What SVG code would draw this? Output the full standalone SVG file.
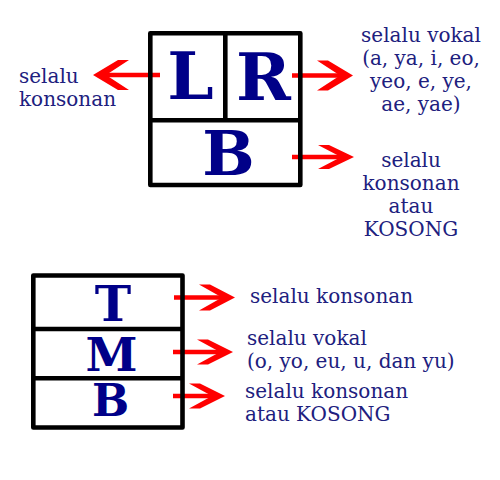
<svg xmlns="http://www.w3.org/2000/svg" width="500" height="480" viewBox="0 0 500 480">
<style>
.box{fill:none;stroke:#000;stroke-width:4.6;stroke-linejoin:round}
.div{stroke:#000;stroke-width:4.6}
.big{font-family:"DejaVu Serif",serif;font-weight:bold;fill:#000088;text-anchor:middle}
.lbl{font-family:"DejaVu Serif",serif;font-size:20px;fill:#20207e}
.mid{text-anchor:middle}
.ln{stroke:#ff0000;stroke-width:4.5;fill:none}
.hd{fill:#ff0000}
</style>
<defs>
<path id="head" d="M0,0 L25,-15 L36,-15 L13,0 L36,15 L25,15 Z"/>
</defs>
<rect width="500" height="480" fill="#fff"/>
<g id="connectors">
<line class="ln" x1="160" y1="75" x2="100" y2="75"/>
<use href="#head" class="hd" transform="translate(93,75)"/>
<line class="ln" x1="292" y1="75.5" x2="345" y2="75.5"/>
<use href="#head" class="hd" transform="translate(353,75.5) scale(-1,1)"/>
<line class="ln" x1="292" y1="157" x2="346" y2="157"/>
<use href="#head" class="hd" transform="translate(354,157) scale(-1,0.8)"/>
<line class="ln" x1="174" y1="297.5" x2="228" y2="297.5"/>
<use href="#head" class="hd" transform="translate(235,297.5) scale(-1,0.87)"/>
<line class="ln" x1="173" y1="352" x2="226" y2="352"/>
<use href="#head" class="hd" transform="translate(233,352) scale(-1,0.83)"/>
<line class="ln" x1="173" y1="396" x2="218" y2="396"/>
<use href="#head" class="hd" transform="translate(225,396) scale(-1,0.83)"/>
</g>
<g id="syllable-LRB">
<rect class="box" x="150.3" y="33.3" width="150" height="151.7"/>
<line class="div" x1="150.3" y1="120.3" x2="300.3" y2="120.3"/>
<line class="div" x1="225.3" y1="33.3" x2="225.3" y2="120.3"/>
<text class="big" x="190.5" y="99" font-size="66">L</text>
<text class="big" x="263.5" y="100" font-size="66">R</text>
<text class="big" x="228.5" y="175" font-size="62">B</text>
</g>
<g id="syllable-TMB">
<rect class="box" x="33.3" y="275.5" width="149.2" height="152"/>
<line class="div" x1="33.3" y1="329" x2="182.5" y2="329"/>
<line class="div" x1="33.3" y1="378.3" x2="182.5" y2="378.3"/>
<text class="big" x="113" y="320.5" font-size="49">T</text>
<text class="big" x="111.5" y="371.3" font-size="47">M</text>
<text class="big" x="110.5" y="416.3" font-size="44">B</text>
</g>
<g id="label-L">
<text class="lbl" x="19" y="83">selalu</text>
<text class="lbl" x="19" y="106">konsonan</text>
</g>
<g id="label-R">
<text class="lbl mid" x="421" y="42">selalu vokal</text>
<text class="lbl mid" x="421" y="65">(a, ya, i, eo,</text>
<text class="lbl mid" x="421" y="88">yeo, e, ye,</text>
<text class="lbl mid" x="421" y="111">ae, yae)</text>
</g>
<g id="label-B1">
<text class="lbl mid" x="411" y="167">selalu</text>
<text class="lbl mid" x="411" y="190">konsonan</text>
<text class="lbl mid" x="411" y="213">atau</text>
<text class="lbl mid" x="411" y="236">KOSONG</text>
</g>
<g id="label-T">
<text class="lbl" x="250" y="303">selalu konsonan</text>
</g>
<g id="label-M">
<text class="lbl" x="247" y="345">selalu vokal</text>
<text class="lbl" x="247" y="368">(o, yo, eu, u, dan yu)</text>
</g>
<g id="label-B2">
<text class="lbl" x="245" y="398">selalu konsonan</text>
<text class="lbl" x="245" y="421">atau KOSONG</text>
</g>
</svg>
